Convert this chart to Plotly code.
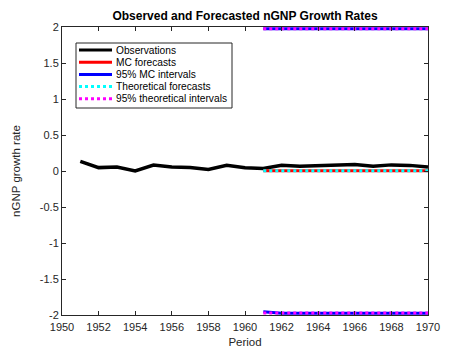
import plotly.graph_objects as go

obs_years = list(range(1951, 1971))
obs_values = [0.135, 0.047, 0.056, 0.0, 0.083, 0.056, 0.05, 0.02, 0.08, 0.045,
              0.035, 0.08, 0.065, 0.07, 0.08, 0.09, 0.065, 0.085, 0.078, 0.055]

fc_years = list(range(1961, 1971))
mc_forecast = [0.002, 0.001, 0.002, 0.002, 0.001, 0.002, 0.002, 0.001, 0.002, 0.002]
mc_upper = [1.975, 1.978, 1.976, 1.977, 1.975, 1.977, 1.976, 1.977, 1.976, 1.977]
mc_lower = [-1.955, -1.975, -1.977, -1.978, -1.98, -1.977, -1.976, -1.977, -1.976, -1.977]
th_forecast = [0.002] * 10
th_upper = [1.976] * 10
th_lower = [-1.972] * 10

legend_labels = ["Observations", "MC forecasts", "95% MC intervals",
                 "Theoretical forecasts", "95% theoretical intervals"]
legend_colors = ["black", "red", "blue", "cyan", "magenta"]
legend_dash = ["solid", "solid", "solid", "dot", "dot"]

FONT = "Liberation Sans, Arial"
W, H = 474, 355
L, R, T, B = 62, 46, 27, 40
PW, PH = W - L - R, H - T - B


def px_x(p):
    return (p - L) / PW


def px_y(p):
    return 1 - (p - T) / PH


fig = go.Figure()
fig.add_trace(go.Scatter(x=obs_years, y=obs_values, mode="lines",
                         line=dict(color="black", width=3.5)))
fig.add_trace(go.Scatter(x=fc_years, y=mc_forecast, mode="lines",
                         line=dict(color="red", width=3)))
fig.add_trace(go.Scatter(x=fc_years, y=mc_upper, mode="lines",
                         line=dict(color="blue", width=3)))
fig.add_trace(go.Scatter(x=fc_years, y=mc_lower, mode="lines",
                         line=dict(color="blue", width=3)))
fig.add_trace(go.Scatter(x=fc_years, y=th_forecast, mode="lines",
                         line=dict(color="cyan", width=3, dash="dot")))
fig.add_trace(go.Scatter(x=fc_years, y=th_upper, mode="lines",
                         line=dict(color="magenta", width=3, dash="dot")))
fig.add_trace(go.Scatter(x=fc_years, y=th_lower, mode="lines",
                         line=dict(color="magenta", width=3, dash="dot")))

# custom legend (MATLAB-style compact box)
shapes = [dict(type="rect", xref="paper", yref="paper",
               x0=px_x(76), x1=px_x(232), y0=px_y(108), y1=px_y(43),
               line=dict(color="#262626", width=1), fillcolor="white", layer="above")]
annotations = []
for i, (lab, col, dash) in enumerate(zip(legend_labels, legend_colors, legend_dash)):
    yy = px_y(50 + 12.2 * i)
    shapes.append(dict(type="line", xref="paper", yref="paper",
                       x0=px_x(79), x1=px_x(112), y0=yy, y1=yy,
                       line=dict(color=col, width=3, dash=dash), layer="above"))
    annotations.append(dict(text=lab, xref="paper", yref="paper", x=px_x(114), y=yy,
                            xanchor="left", yanchor="middle", showarrow=False,
                            font=dict(family=FONT, size=10.2, color="black")))

axis_common = dict(showline=True, linecolor="#262626", linewidth=1, mirror="ticks",
                   ticks="inside", ticklen=4, tickcolor="#262626", showgrid=False,
                   zeroline=False, automargin=False,
                   tickfont=dict(family=FONT, size=11, color="#262626"))

fig.update_layout(
    width=W, height=H,
    margin=dict(l=L, r=R, t=T, b=B, autoexpand=False),
    paper_bgcolor="white", plot_bgcolor="white",
    showlegend=False,
    title=dict(text="<b>Observed and Forecasted nGNP Growth Rates</b>", x=0.5, xanchor="center",
               xref="paper", y=1 - 16 / H, yanchor="middle",
               font=dict(family=FONT, size=12, color="black")),
    xaxis=dict(range=[1950, 1970], tickvals=list(range(1950, 1971, 2)),
               ticklabelstandoff=2,
               title=dict(text="Period", standoff=5,
                          font=dict(family=FONT, size=11.5, color="#262626")),
               **axis_common),
    yaxis=dict(range=[-2, 2], tickvals=[-2, -1.5, -1, -0.5, 0, 0.5, 1, 1.5, 2],
               ticktext=["-2", "-1.5", "-1", "-0.5", "0", "0.5", "1", "1.5", "2"],
               title=dict(text="nGNP growth rate", standoff=16,
                          font=dict(family=FONT, size=11.5, color="#262626")),
               **axis_common),
    shapes=shapes,
    annotations=annotations,
)

fig.write_html("out.html", config={"displayModeBar": False},
               post_script="document.body.style.margin='0px';")
